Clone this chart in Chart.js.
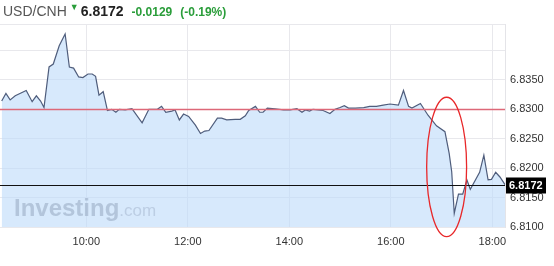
<!DOCTYPE html>
<html>
<head>
<meta charset="utf-8">
<script src="https://cdn.jsdelivr.net/npm/chart.js@4.4.1/dist/chart.umd.min.js"></script>
<style>
  body { margin: 0; background: #fff; }
  #wrap { position: relative; width: 554px; height: 266px; }
  #head { position: absolute; left: 3px; top: 2px; font-family: Arial, "Liberation Sans", sans-serif; white-space: nowrap; z-index: 2; }
  #head .sym { font-size: 14px; color: #555; }
  #head .arr { font-size: 9px; color: #2a9d3a; vertical-align: 6px; margin-left: 3px; }
  #head .last { font-size: 14px; font-weight: bold; color: #222; margin-left: 2px; }
  #head .chg { font-size: 12px; font-weight: bold; color: #2a9d3a; margin-left: 8px; }
</style>
</head>
<body>
<div id="wrap">
  <div id="head">
    <span class="sym">USD/CNH</span><span class="arr">&#9660;</span><span class="last">6.8172</span><span class="chg">-0.0129</span><span class="chg">(-0.19%)</span>
  </div>
  <canvas id="myChart" width="554" height="266"></canvas>
</div>
<script>
// minutes since midnight
const times = [500, 505, 510, 516, 529, 536, 541, 546, 550, 556, 561, 568, 575, 580, 585, 591, 596, 602, 607, 611,
  615, 620, 625, 630, 635, 639, 646, 654, 666, 674, 684, 689, 694, 701, 705, 710, 715, 721, 729, 735,
  740, 745, 755, 760, 766, 776, 782, 788, 792, 800, 805, 809, 814, 823, 833, 841, 849, 855, 859, 864,
  868, 874, 880, 888, 894, 900, 905, 910, 918, 928, 935, 943, 951, 959, 969, 975, 981, 985, 995, 1004,
  1014, 1024, 1029, 1032, 1035, 1040, 1045, 1050, 1054, 1065, 1070, 1075, 1079, 1084, 1089, 1095];
const prices = [6.8314, 6.8327, 6.8316, 6.8323, 6.8332, 6.8313, 6.8323, 6.8314, 6.8303, 6.8372, 6.8377, 6.8408, 6.8428, 6.8372, 6.8370, 6.8355, 6.8354, 6.8360, 6.8360, 6.8356,
  6.8324, 6.8330, 6.8298, 6.8300, 6.8295, 6.8300, 6.8299, 6.8301, 6.8277, 6.8300, 6.8300, 6.8305, 6.8295, 6.8297, 6.8299, 6.8282, 6.8292, 6.8288, 6.8273, 6.8259,
  6.8263, 6.8264, 6.8285, 6.8285, 6.8282, 6.8283, 6.8283, 6.8289, 6.8298, 6.8305, 6.8295, 6.8295, 6.8302, 6.8301, 6.8299, 6.8299, 6.8301, 6.8295, 6.8299, 6.8297,
  6.8300, 6.8299, 6.8298, 6.8293, 6.8300, 6.8303, 6.8306, 6.8302, 6.8302, 6.8303, 6.8305, 6.8305, 6.8307, 6.8309, 6.8307, 6.8332, 6.8305, 6.8302, 6.8310, 6.8290,
  6.8272, 6.8262, 6.8225, 6.8194, 6.8123, 6.8156, 6.8156, 6.8180, 6.8164, 6.8193, 6.8222, 6.8180, 6.8181, 6.8193, 6.8185, 6.8172];

const xTickValues = [600, 720, 840, 960, 1080];
const xTickLabels = ["10:00", "12:00", "14:00", "16:00", "18:00"];
const yTickValues = [6.810, 6.815, 6.820, 6.825, 6.830, 6.835, 6.840, 6.8445];
const yTickLabels = ["6.8100", "6.8150", "6.8200", "6.8250", "6.8300", "6.8350", "", ""];

const refLevel = 6.8300;     // red horizontal line
const lastPrice = 6.8172;    // black line + label
const circled = { t: 1026, v: 6.8202, dt: 23.6, dv: 0.01185 }; // red ellipse around the drop

const points = times.map((t, i) => ({ x: t, y: prices[i] }));
const font = 'Arial, "Liberation Sans", sans-serif';

const overlay = {
  id: "overlay",
  afterDatasetsDraw(chart) {
    const { ctx, chartArea } = chart;
    const x = chart.scales.x, y = chart.scales.y;
    ctx.save();
    // watermark
    ctx.textBaseline = "alphabetic";
    ctx.fillStyle = "rgba(150,168,192,0.55)";
    ctx.font = "bold 24px " + font;
    ctx.fillText("Investing", 14, 216);
    const w = ctx.measureText("Investing").width;
    ctx.fillStyle = "rgba(150,168,192,0.42)";
    ctx.font = "17px " + font;
    ctx.fillText(".com", 14 + w, 216);
    // reference line
    const yr = Math.round(y.getPixelForValue(refLevel)) + 0.5;
    ctx.strokeStyle = "#dd6878";
    ctx.lineWidth = 1.5;
    ctx.beginPath(); ctx.moveTo(chartArea.left, yr); ctx.lineTo(chartArea.right, yr); ctx.stroke();
    // last price line
    const yl = Math.round(y.getPixelForValue(lastPrice)) + 0.5;
    ctx.strokeStyle = "#111";
    ctx.lineWidth = 1;
    ctx.beginPath(); ctx.moveTo(chartArea.left, yl); ctx.lineTo(chartArea.right, yl); ctx.stroke();
    // last price label
    ctx.fillStyle = "#000";
    ctx.fillRect(chartArea.right + 1, yl - 8, 40, 16);
    ctx.fillStyle = "#fff";
    ctx.font = "bold 11px " + font;
    ctx.textBaseline = "middle";
    ctx.fillText(lastPrice.toFixed(4), chartArea.right + 4, yl + 0.5);
    // ellipse
    const cx = x.getPixelForValue(circled.t), cy = y.getPixelForValue(circled.v);
    const rx = x.getPixelForValue(circled.t + circled.dt) - cx;
    const ry = cy - y.getPixelForValue(circled.v + circled.dv);
    ctx.strokeStyle = "#e8282a";
    ctx.lineWidth = 1.3;
    ctx.beginPath(); ctx.ellipse(cx, cy, rx, ry, 0, 0, Math.PI * 2); ctx.stroke();
    ctx.restore();
  }
};

new Chart(document.getElementById("myChart").getContext("2d"), {
  type: "line",
  data: {
    datasets: [{
      data: points,
      borderColor: "#4f5d7c",
      borderWidth: 1.2,
      backgroundColor: "rgba(190,220,250,0.62)",
      fill: "start",
      pointRadius: 0,
      tension: 0
    }]
  },
  options: {
    responsive: false,
    animation: false,
    events: [],
    layout: { padding: { top: 24, left: 0, right: 0, bottom: 0 } },
    plugins: { legend: { display: false }, tooltip: { enabled: false } },
    scales: {
      x: {
        type: "linear",
        min: 498,
        max: 1095,
        afterBuildTicks: (axis) => { axis.ticks = xTickValues.map(v => ({ value: v })); },
        afterFit: (axis) => { axis.height = 39; },
        ticks: {
          autoSkip: false,
          maxRotation: 0,
          padding: 8,
          color: "#333",
          font: { family: font, size: 11 },
          callback: (v) => xTickLabels[xTickValues.indexOf(v)]
        },
        grid: { color: "#e8e8ec", drawTicks: false },
        border: { display: false }
      },
      y: {
        position: "right",
        min: 6.810,
        max: 6.8445,
        afterBuildTicks: (axis) => { axis.ticks = yTickValues.map(v => ({ value: v })); },
        afterFit: (axis) => { axis.width = 49; },
        ticks: {
          padding: 5,
          color: "#333",
          font: { family: font, size: 11 },
          callback: (v) => yTickLabels[yTickValues.indexOf(v)]
        },
        grid: { color: "#e8e8ec", drawTicks: false },
        border: { display: true, color: "#e4e4e8" }
      }
    }
  },
  plugins: [overlay]
});
</script>
</body>
</html>
